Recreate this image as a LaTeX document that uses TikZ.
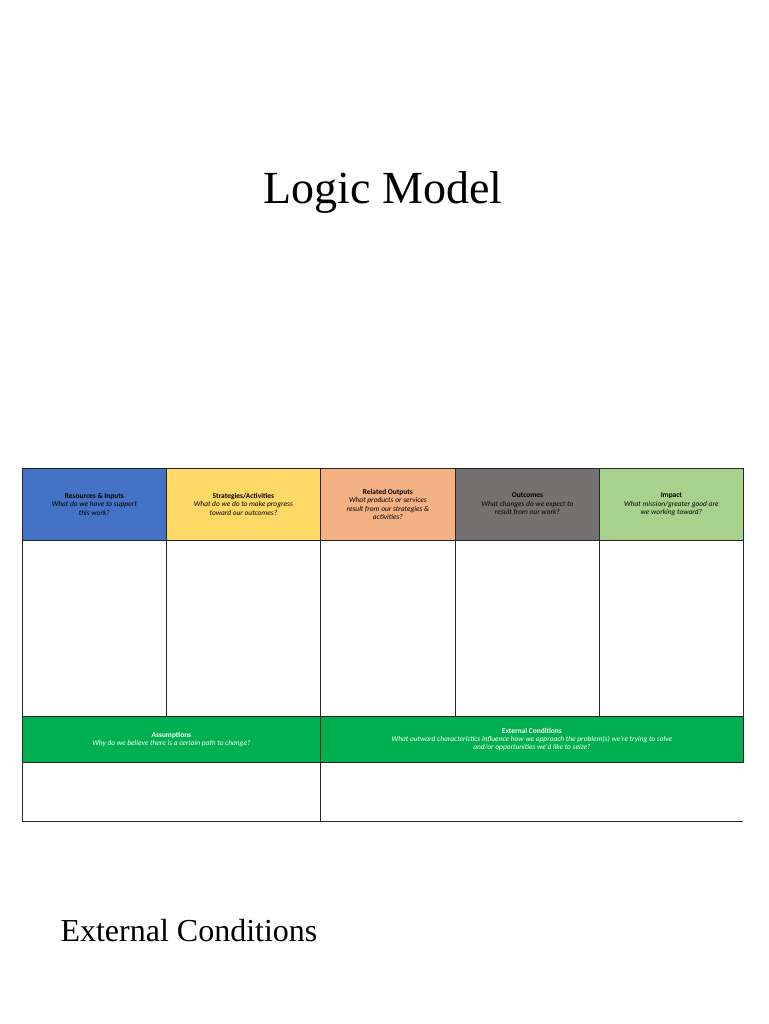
\documentclass[tikz,border=0pt]{standalone}
\usepackage{fontspec}
\setmainfont{Liberation Serif}
\newfontfamily\calfont{Carlito}
\definecolor{cblue}{HTML}{4472C4}
\definecolor{cyel}{HTML}{FFD966}
\definecolor{corg}{HTML}{F4B183}
\definecolor{cgry}{HTML}{767171}
\definecolor{cgrn}{HTML}{A9D18E}
\definecolor{cbar}{HTML}{00B050}
\begin{document}
\begin{tikzpicture}[x=1pt,y=-1pt,
  cell/.style={draw=black!85,line width=0.8pt,inner sep=0pt,anchor=north west,align=center,font=\calfont\fontsize{7.4}{8.4}\selectfont},
  bar/.style={cell,fill=cbar,text=white}]
\useasboundingbox (0,0) rectangle (768,1024);
\node[font=\fontsize{46}{50}\selectfont] (title) at (383,193) {Logic Model};
\node[font=\fontsize{32}{36}\selectfont,anchor=west] (ext) at (57,931) {External Conditions};
\node[cell,fill=cblue,minimum width=144,minimum height=72] (h1) at (22,468) {\textbf{Resources \& Inputs}\\\textit{What do we have to support}\\\textit{this work?}};
\node[cell,fill=cyel,minimum width=154,minimum height=72] (h2) at (166,468) {\textbf{Strategies/Activities}\\\textit{What do we do to make progress}\\\textit{toward our outcomes?}};
\node[cell,fill=corg,minimum width=135,minimum height=72] (h3) at (320,468) {\textbf{Related Outputs}\\\textit{What products or services}\\\textit{result from our strategies \&}\\\textit{activities?}};
\node[cell,fill=cgry,minimum width=144,minimum height=72] (h4) at (455,468) {\textbf{Outcomes}\\\textit{What changes do we expect to}\\\textit{result from our work?}};
\node[cell,fill=cgrn,minimum width=144,minimum height=72] (h5) at (599,468) {\textbf{Impact}\\\textit{What mission/greater good are}\\\textit{we working toward?}};
\node[cell,minimum width=144,minimum height=176] (b1) at (22,540) {};
\node[cell,minimum width=154,minimum height=176] (b2) at (166,540) {};
\node[cell,minimum width=135,minimum height=176] (b3) at (320,540) {};
\node[cell,minimum width=144,minimum height=176] (b4) at (455,540) {};
\node[cell,minimum width=144,minimum height=176] (b5) at (599,540) {};
\node[bar,minimum width=298,minimum height=46] (as) at (22,716) {\textbf{Assumptions}\\\textit{Why do we believe there is a certain path to change?}};
\node[bar,minimum width=423,minimum height=46] (ec) at (320,716) {\textbf{External Conditions}\\\textit{What outward characteristics influence how we approach the problem(s) we're trying to solve}\\\textit{and/or opportunities we'd like to seize?}};
\node[inner sep=0pt,anchor=north west,minimum width=298,minimum height=59] (ab) at (22,762) {};
\node[inner sep=0pt,anchor=north west,minimum width=423,minimum height=59] (eb) at (320,762) {};
\draw[black!85,line width=0.8pt] (ab.north west) -- (ab.south west) -- (eb.south east);
\draw[black!85,line width=0.8pt] (eb.north west) -- (eb.south west);
\end{tikzpicture}
\end{document}
